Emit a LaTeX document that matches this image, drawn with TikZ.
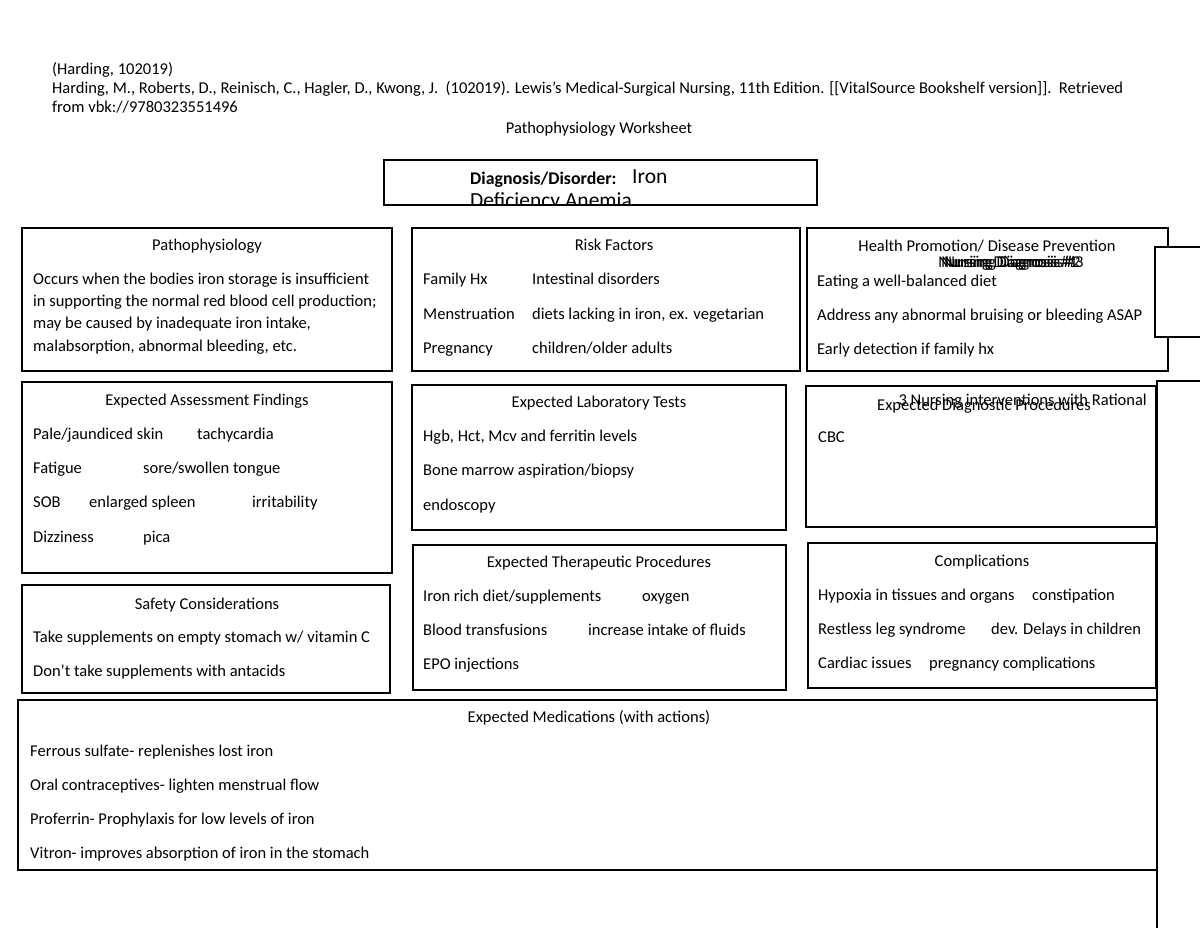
\documentclass[tikz,border=0pt]{standalone}
\usepackage{fontspec}
\setmainfont{Carlito}
\tikzset{
  box/.style={line width=1.6pt},
  txt/.style={font=\fontsize{16.5pt}{19pt}\selectfont, inner sep=0pt, anchor=mid west, yshift=-3pt},
  head/.style={font=\fontsize{16.5pt}{19pt}\selectfont, inner sep=0pt, anchor=mid, yshift=-3pt},
}
\begin{document}
\begin{tikzpicture}[x=1pt, y=-1pt]
\useasboundingbox [fill=white] (0,0) rectangle (1200,927);

% reference lines
\node (ref1) at (52, 69) [txt] {(Harding, 102019)};
\node (ref2) at (52, 88) [txt] {Harding, M., Roberts, D., Reinisch, C., Hagler, D., Kwong, J.\ \ (102019). Lewis's Medical-Surgical Nursing, 11th Edition. [[VitalSource Bookshelf version]].\ \ Retrieved};
\node (ref3) at (52, 107) [txt] {from vbk://9780323551496};
\node (sheet) at (599, 128) [head] {Pathophysiology Worksheet};

% diagnosis
\draw [box] (384, 160) rectangle (817, 205);
\begin{scope}
\clip (385, 161) rectangle (816, 204);
\node (diag) at (470, 179) [txt, font=\fontsize{17.8pt}{21pt}\selectfont\bfseries] {Diagnosis/Disorder:};
\node (iron) at (632, 178) [txt, font=\fontsize{21.5pt}{25pt}\selectfont] {Iron};
\node (anemia) at (470, 202) [txt, font=\fontsize{21.5pt}{25pt}\selectfont] {Deficiency Anemia};
\end{scope}

% first row
\draw [box] (22, 228) rectangle (392, 371);
\node (patho) at (207, 245) [head] {Pathophysiology};
\node (patho1) at (33, 279) [txt] {Occurs when the bodies iron storage is insufficient};
\node (patho2) at (33, 301) [txt] {in supporting the normal red blood cell production;};
\node (patho3) at (33, 323) [txt] {may be caused by inadequate iron intake,};
\node (patho4) at (33, 346) [txt] {malabsorption, abnormal bleeding, etc.};

\draw [box] (412, 228) rectangle (800, 371);
\node (risk) at (614, 245) [head] {Risk Factors};
\node (risk1) at (423, 279) [txt] {Family Hx};
\node (risk2) at (532, 279) [txt] {Intestinal disorders};
\node (risk3) at (423, 314) [txt] {Menstruation};
\node (risk4) at (532, 314) [txt] {diets lacking in iron, ex. vegetarian};
\node (risk5) at (423, 348) [txt] {Pregnancy};
\node (risk6) at (532, 348) [txt] {children/older adults};

\draw [box] (807, 228) rectangle (1168, 371);
\node (health) at (987, 246) [head] {Health Promotion/ Disease Prevention};
\node (nd1) at (1008, 262) [head] {Nursing Diagnosis \#1};
\node (nd2) at (1011, 262) [head] {Nursing Diagnosis \#2};
\node (nd3) at (1014, 262) [head] {Nursing Diagnosis \#3};
\node (health1) at (817, 281) [txt] {Eating a well-balanced diet};
\node (health2) at (817, 315) [txt] {Address any abnormal bruising or bleeding ASAP};
\node (health3) at (817, 349) [txt] {Early detection if family hx};

\draw [box, fill=white] (1210, 247) -- (1155, 247) -- (1155, 337) -- (1210, 337);

% second row
\draw [box] (22, 382) rectangle (392, 573);
\node (assess) at (207, 400) [head] {Expected Assessment Findings};
\node (assess1) at (33, 434) [txt] {Pale/jaundiced skin};
\node (assess2) at (197, 434) [txt] {tachycardia};
\node (assess3) at (33, 468) [txt] {Fatigue};
\node (assess4) at (143, 468) [txt] {sore/swollen tongue};
\node (assess5) at (33, 502) [txt] {SOB};
\node (assess6) at (89, 502) [txt] {enlarged spleen};
\node (assess7) at (252, 502) [txt] {irritability};
\node (assess8) at (33, 537) [txt] {Dizziness};
\node (assess9) at (143, 537) [txt] {pica};

\draw [box] (412, 385) rectangle (786, 530);
\node (lab) at (599, 402) [head] {Expected Laboratory Tests};
\node (lab1) at (423, 436) [txt] {Hgb, Hct, Mcv and ferritin levels};
\node (lab2) at (423, 470) [txt] {Bone marrow aspiration/biopsy};
\node (lab3) at (423, 505) [txt] {endoscopy};

\draw [box] (806, 386) rectangle (1156, 527);
\node (diagproc) at (877, 405) [txt] {Expected Diagnostic Procedures};
\node (interv) at (1147, 400) [txt, anchor=mid east] {3 Nursing interventions with Rational};
\node (cbc) at (818, 437) [txt] {CBC};

\draw [box] (1210, 381) -- (1157, 381) -- (1157, 940);

% third row
\draw [box] (413, 545) rectangle (786, 690);
\node (ther) at (599, 562) [head] {Expected Therapeutic Procedures};
\node (ther1) at (423, 596) [txt] {Iron rich diet/supplements};
\node (ther2) at (642, 596) [txt] {oxygen};
\node (ther3) at (423, 630) [txt] {Blood transfusions};
\node (ther4) at (588, 630) [txt] {increase intake of fluids};
\node (ther5) at (423, 664) [txt] {EPO injections};

\draw [box] (808, 543) rectangle (1156, 688);
\node (comp) at (982, 561) [head] {Complications};
\node (comp1) at (818, 595) [txt] {Hypoxia in tissues and organs};
\node (comp2) at (1032, 595) [txt] {constipation};
\node (comp3) at (818, 629) [txt] {Restless leg syndrome};
\node (comp4) at (991, 629) [txt] {dev. Delays in children};
\node (comp5) at (818, 663) [txt] {Cardiac issues};
\node (comp6) at (929, 663) [txt] {pregnancy complications};

\draw [box] (22, 585) rectangle (390, 693);
\node (safety) at (207, 604) [head] {Safety Considerations};
\node (safety1) at (33, 637) [txt] {Take supplements on empty stomach w/ vitamin C};
\node (safety2) at (33, 671) [txt] {Don’t take supplements with antacids};

% medications
\draw [box] (18, 700) rectangle (1157, 870);
\node (meds) at (589, 717) [head] {Expected Medications (with actions)};
\node (meds1) at (30, 751) [txt] {Ferrous sulfate- replenishes lost iron};
\node (meds2) at (30, 785) [txt] {Oral contraceptives- lighten menstrual flow};
\node (meds3) at (30, 819) [txt] {Proferrin- Prophylaxis for low levels of iron};
\node (meds4) at (30, 853) [txt] {Vitron- improves absorption of iron in the stomach};
\end{tikzpicture}
\end{document}
